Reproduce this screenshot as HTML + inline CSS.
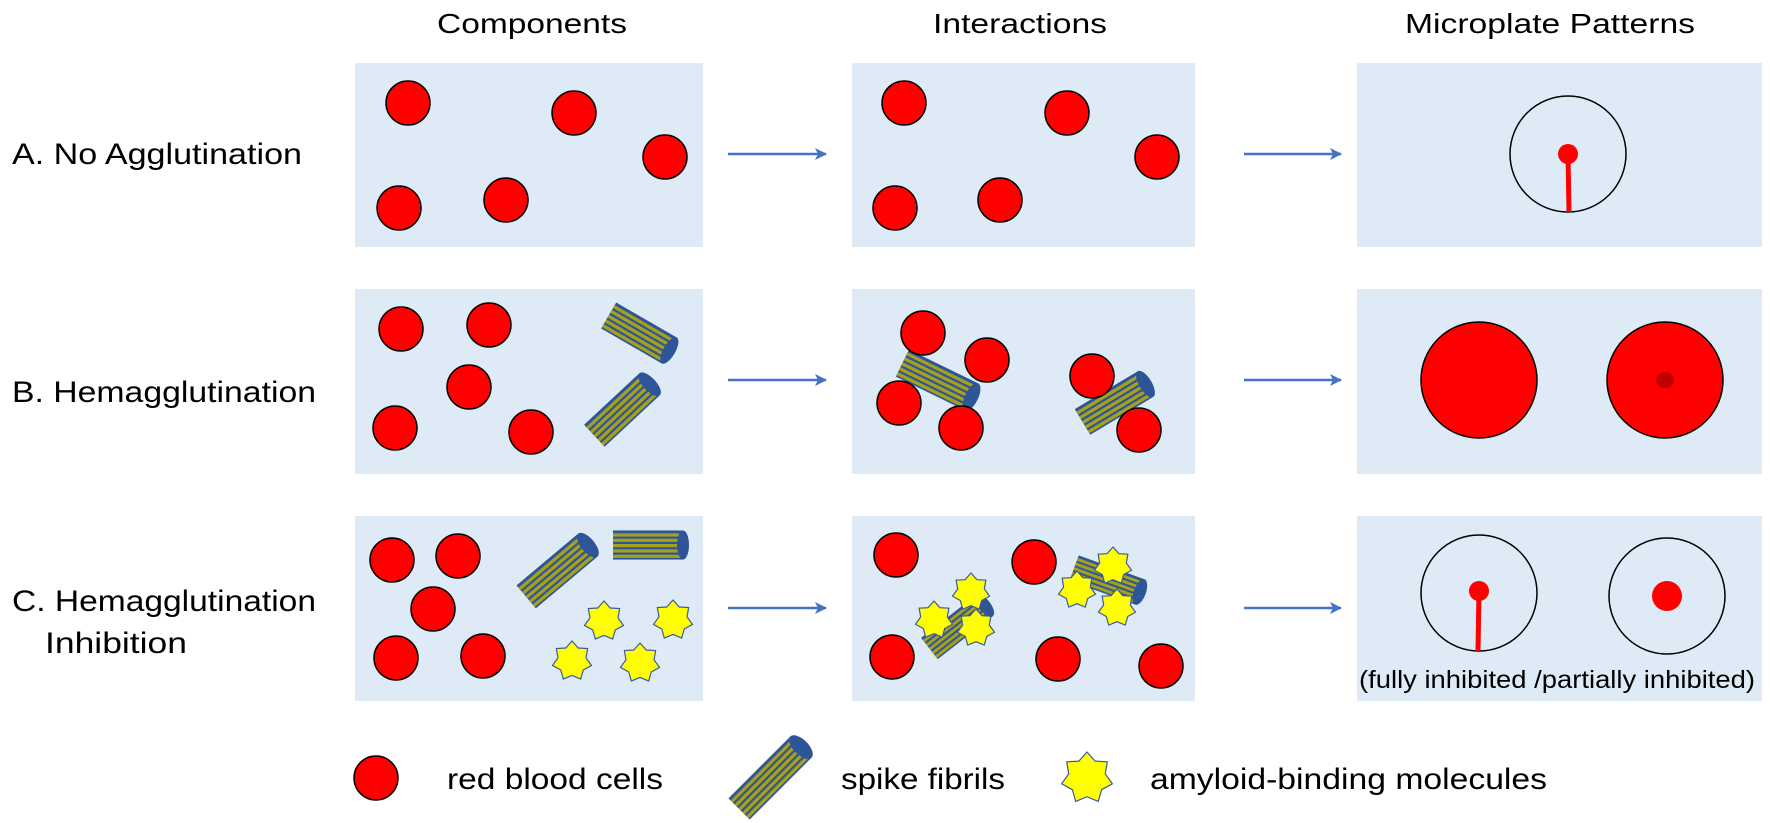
<!DOCTYPE html>
<html><head><meta charset="utf-8"><style>
html,body{margin:0;padding:0;background:#fff;}
svg{display:block;}
text{font-family:"Liberation Sans",sans-serif;fill:#000;}
</style></head><body>
<svg width="1770" height="823" viewBox="0 0 1770 823" xmlns="http://www.w3.org/2000/svg">
<defs>
<g id="fib">
<rect x="-35" y="-15" width="70" height="30" fill="#2e5597"/>
<rect x="-35" y="-12" width="70" height="3.3" fill="#a6a01c"/>
<rect x="-35" y="-6.5" width="70" height="3.3" fill="#a6a01c"/>
<rect x="-35" y="-1" width="70" height="3.3" fill="#a6a01c"/>
<rect x="-35" y="4.5" width="70" height="3.3" fill="#a6a01c"/>
<rect x="-35" y="10" width="70" height="3.3" fill="#a6a01c"/>
<ellipse cx="35" cy="0" rx="6" ry="15" fill="#2e5597"/>
</g>
<polygon id="star" points="0,-1 0.312,-0.649 0.7818,-0.6235 0.702,-0.16 0.9749,0.2225 0.563,0.449 0.4339,0.901 0,0.72 -0.4339,0.901 -0.563,0.449 -0.9749,0.2225 -0.702,-0.16 -0.7818,-0.6235 -0.312,-0.649" fill="#ffff00" stroke="#3a5aa0" stroke-width="1.2" vector-effect="non-scaling-stroke"/>
<marker id="ah" markerWidth="12" markerHeight="12" refX="11" refY="6" orient="auto" markerUnits="userSpaceOnUse">
<path d="M0,0 L12,6 L0,12 L3,6 Z" fill="#4472c4"/>
</marker>
</defs>

<text x="532" y="33" font-size="28" text-anchor="middle" textLength="190" lengthAdjust="spacingAndGlyphs">Components</text>
<text x="1020" y="33" font-size="28" text-anchor="middle" textLength="174" lengthAdjust="spacingAndGlyphs">Interactions</text>
<text x="1550" y="33" font-size="28" text-anchor="middle" textLength="290" lengthAdjust="spacingAndGlyphs">Microplate Patterns</text>

<text x="12" y="164" font-size="30" textLength="290" lengthAdjust="spacingAndGlyphs">A. No Agglutination</text>
<text x="12" y="402" font-size="30" textLength="304" lengthAdjust="spacingAndGlyphs">B. Hemagglutination</text>
<text x="12" y="611" font-size="30" textLength="304" lengthAdjust="spacingAndGlyphs">C. Hemagglutination</text>
<text x="45" y="653" font-size="30" textLength="142" lengthAdjust="spacingAndGlyphs">Inhibition</text>

<g fill="#deebf7">
<rect x="355" y="63" width="348" height="184"/>
<rect x="852" y="63" width="343" height="184"/>
<rect x="1357" y="63" width="405" height="184"/>
<rect x="355" y="289" width="348" height="185"/>
<rect x="852" y="289" width="343" height="185"/>
<rect x="1357" y="289" width="405" height="185"/>
<rect x="355" y="516" width="348" height="185"/>
<rect x="852" y="516" width="343" height="185"/>
<rect x="1357" y="516" width="405" height="185"/>
</g>

<g stroke="#4472c4" stroke-width="2.5" marker-end="url(#ah)">
<line x1="728" y1="154" x2="826" y2="154"/>
<line x1="1244" y1="154" x2="1341" y2="154"/>
<line x1="728" y1="380" x2="826" y2="380"/>
<line x1="1244" y1="380" x2="1341" y2="380"/>
<line x1="728" y1="608" x2="826" y2="608"/>
<line x1="1244" y1="608" x2="1341" y2="608"/>
</g>

<g fill="#ff0000" stroke="#000" stroke-width="1.5">
<circle cx="408" cy="103" r="22"/><circle cx="574" cy="113" r="22"/><circle cx="665" cy="157" r="22"/>
<circle cx="399" cy="208" r="22"/><circle cx="506" cy="200" r="22"/>
<circle cx="904" cy="103" r="22"/><circle cx="1067" cy="113" r="22"/><circle cx="1157" cy="157" r="22"/>
<circle cx="895" cy="208" r="22"/><circle cx="1000" cy="200" r="22"/>
<circle cx="401" cy="329" r="22"/><circle cx="489" cy="325" r="22"/><circle cx="469" cy="387" r="22"/>
<circle cx="395" cy="428" r="22"/><circle cx="531" cy="432" r="22"/>
</g>
<use href="#fib" transform="translate(639,333) rotate(30)"/>
<use href="#fib" transform="translate(622,410) rotate(-43) scale(1.08,1)"/>

<use href="#fib" transform="translate(937,380) rotate(26) scale(1.1,1)"/>
<use href="#fib" transform="translate(1114,403) rotate(-31) scale(1.05,1)"/>
<g fill="#ff0000" stroke="#000" stroke-width="1.5">
<circle cx="923" cy="333" r="22"/><circle cx="987" cy="360" r="22"/><circle cx="899" cy="403" r="22"/>
<circle cx="961" cy="428" r="22"/><circle cx="1092" cy="376" r="22"/><circle cx="1139" cy="430" r="22"/>
</g>

<circle cx="1568" cy="154" r="58" fill="none" stroke="#000" stroke-width="1.5"/>
<line x1="1568" y1="154" x2="1569" y2="212" stroke="#ff0000" stroke-width="5"/>
<circle cx="1568" cy="154" r="10" fill="#ff0000"/>

<circle cx="1479" cy="380" r="58" fill="#ff0000" stroke="#000" stroke-width="1.5"/>
<circle cx="1665" cy="380" r="58" fill="#ff0000" stroke="#000" stroke-width="1.5"/>
<ellipse cx="1665" cy="380" rx="9" ry="8" fill="#c00000"/>

<g fill="#ff0000" stroke="#000" stroke-width="1.5">
<circle cx="392" cy="560" r="22"/><circle cx="458" cy="556" r="22"/><circle cx="433" cy="609" r="22"/>
<circle cx="396" cy="658" r="22"/><circle cx="483" cy="656" r="22"/>
</g>
<use href="#fib" transform="translate(557,571) rotate(-40) scale(1.15,1)"/>
<use href="#fib" transform="translate(648,545) scale(1.0,0.97)"/>
<use href="#star" transform="translate(604,621) scale(20)"/>
<use href="#star" transform="translate(673,620) scale(20)"/>
<use href="#star" transform="translate(572,661) scale(20)"/>
<use href="#star" transform="translate(640,663) scale(20)"/>

<g fill="#ff0000" stroke="#000" stroke-width="1.5">
<circle cx="896" cy="555" r="22"/><circle cx="1034" cy="562" r="22"/><circle cx="892" cy="657" r="22"/>
<circle cx="1058" cy="659" r="22"/><circle cx="1161" cy="666" r="22"/>
</g>
<use href="#fib" transform="translate(957,627) rotate(-38) scale(1,0.9)"/>
<use href="#fib" transform="translate(1107,580) rotate(20) scale(1,0.9)"/>
<use href="#star" transform="translate(971,592) scale(19)"/>
<use href="#star" transform="translate(934,620) scale(19)"/>
<use href="#star" transform="translate(976,628) scale(19)"/>
<use href="#star" transform="translate(1113,566) scale(19)"/>
<use href="#star" transform="translate(1077,590) scale(19)"/>
<use href="#star" transform="translate(1117,608) scale(19)"/>

<circle cx="1479" cy="593" r="58" fill="none" stroke="#000" stroke-width="1.5"/>
<line x1="1479" y1="591" x2="1478" y2="651" stroke="#ff0000" stroke-width="5"/>
<circle cx="1479" cy="591" r="10" fill="#ff0000"/>
<circle cx="1667" cy="596" r="58" fill="none" stroke="#000" stroke-width="1.5"/>
<circle cx="1667" cy="596" r="15" fill="#ff0000"/>
<text x="1359" y="688" font-size="25" textLength="396" lengthAdjust="spacingAndGlyphs">(fully inhibited /partially inhibited)</text>

<circle cx="376" cy="778" r="22" fill="#ff0000" stroke="#000" stroke-width="1.5"/>
<text x="447" y="789" font-size="30" textLength="216" lengthAdjust="spacingAndGlyphs">red blood cells</text>
<use href="#fib" transform="translate(770,778) rotate(-45) scale(1.25,1)"/>
<text x="841" y="789" font-size="30" textLength="164" lengthAdjust="spacingAndGlyphs">spike fibrils</text>
<use href="#star" transform="translate(1087,778) scale(26)"/>
<text x="1150" y="789" font-size="30" textLength="397" lengthAdjust="spacingAndGlyphs">amyloid-binding molecules</text>
</svg>
</body></html>
